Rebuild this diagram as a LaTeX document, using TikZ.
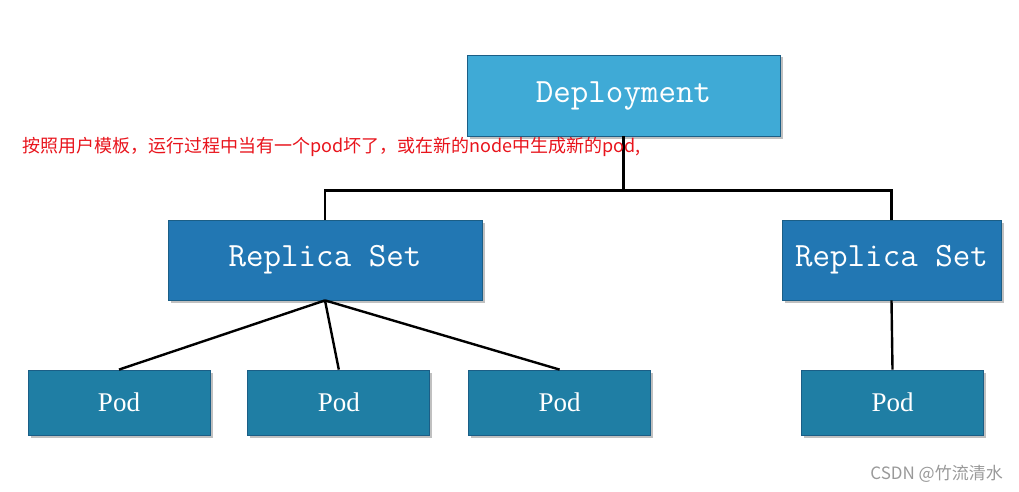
\documentclass[tikz,border=0pt]{standalone}
\usepackage{fontspec}
\setmainfont{Liberation Serif}
\newfontfamily\cjkfont{Noto Sans CJK SC}
\usetikzlibrary{positioning,shadows}
\definecolor{deplblue}{HTML}{3FAAD6}
\definecolor{rsblue}{HTML}{2277B3}
\definecolor{podblue}{HTML}{1F7EA4}
\definecolor{boxedge}{HTML}{1B5E86}
\definecolor{notered}{HTML}{E8141C}

\begin{document}
\begin{tikzpicture}[x=1pt,y=-1pt,node distance=37pt,
	box/.style={rectangle,draw=boxedge,line width=0.8pt,inner sep=0pt,text=white,
		drop shadow={shadow xshift=2.5pt,shadow yshift=-2.5pt,fill=black!45,opacity=0.55}},
	dep/.style={box,fill=deplblue,minimum width=313pt,minimum height=81pt,font=\fontsize{34}{34}\ttfamily},
	rs/.style={box,fill=rsblue,minimum height=80pt,font=\fontsize{34}{34}\ttfamily},
	pod/.style={box,fill=podblue,minimum width=182pt,minimum height=65pt,font=\fontsize{27}{27}\selectfont},
	link/.style={line width=2.4pt}]
		\useasboundingbox (0,0) rectangle (1019,492);
		\node[dep] (dep) at (623.5,95.5) {Deployment};
		\node[rs,minimum width=314pt] (rs_1) at (325,260) {Replica Set};
		\node[rs,minimum width=219pt] (rs_2) at (891.5,260) {Replica Set};
		\node[pod] (pod_1) at (119,402.5) {Pod};
		\node[pod] [right=of pod_1] (pod_2) {Pod};
		\node[pod] [right=38pt of pod_2] (pod_3) {Pod};
		\node[pod] (pod_4) at (892.5,402.5) {Pod};
		\path (dep.south) ++(0,54) coordinate (fork);
		\draw[link] (dep.south) -- (fork);
		\draw[link] (rs_1.north) |- (fork) -| (rs_2.north);
		\path[link]
			(rs_1.south) edge (pod_1.north)
			(rs_1.south) edge (pod_2.north)
			(rs_1.south) edge (pod_3.north)
			(rs_2.south) edge (pod_4.north);
		\node[anchor=west,inner sep=0pt,text=notered,font=\cjkfont\fontsize{18}{18}\selectfont] (note) at (22,146.5) {按照用户模板，运行过程中当有一个pod坏了，或在新的node中生成新的pod,};
		\node[anchor=east,inner sep=0pt,text=black!40,font=\cjkfont\fontsize{17}{17}\selectfont] (mark) at (1003,474) {CSDN @竹流清水};
	\end{tikzpicture}
\end{document}
